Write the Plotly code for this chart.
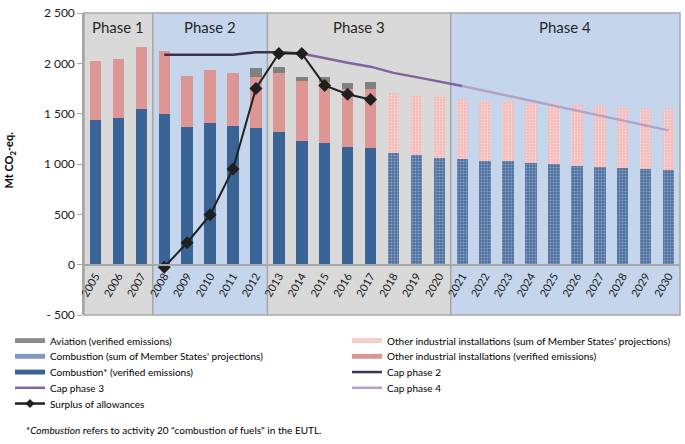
import plotly.graph_objects as go

# ---------------- data ----------------
years = list(range(2005, 2031))
year_labels = [str(y) for y in years]

years_verified = list(range(2005, 2018))
combustion_verified = [1440, 1456, 1544, 1495, 1368, 1407, 1378, 1358, 1319, 1226, 1211, 1167, 1158]
other_verified = [580, 586, 622, 625, 511, 530, 527, 511, 586, 594, 603, 582, 591]

years_aviation = list(range(2012, 2018))
aviation_verified = [82, 62, 49, 49, 59, 66]

years_proj = list(range(2018, 2031))
combustion_proj = [1114, 1088, 1058, 1049, 1032, 1029, 1006, 1000, 984, 974, 964, 951, 941]
other_proj = [596, 596, 603, 596, 597, 600, 603, 602, 606, 599, 599, 599, 603]

years_cap2 = list(range(2008, 2015))
cap_phase2 = [2085, 2085, 2085, 2085, 2110, 2110, 2098]
years_cap3 = list(range(2014, 2022))
cap_phase3 = [2098, 2049, 2006, 1967, 1905, 1863, 1820, 1775]
years_cap4 = list(range(2021, 2031))
cap_phase4 = [1775, 1726, 1677, 1628, 1579, 1530, 1481, 1432, 1383, 1334]

years_surplus = list(range(2008, 2018))
surplus = [-25, 218, 495, 951, 1750, 2098, 2098, 1781, 1693, 1641]

phases = ["Phase 1", "Phase 2", "Phase 3", "Phase 4"]
phase_bounds = [(2005, 2007), (2008, 2012), (2013, 2020), (2021, 2030)]

y_ticks = [-500, 0, 500, 1000, 1500, 2000, 2500]
y_tick_labels = ["- 500", "0", "500", "1 000", "1 500", "2 000", "2 500"]

# ---------------- styles ----------------
FONT = "Lato"
C_BLUE = "#3a6496"
C_PINK = "#dc9794"
C_GRAY = "#808080"
C_CAP2 = "#3f3151"
C_CAP3 = "#8064a2"
C_CAP4 = "#b3a2c7"
C_SURPLUS = "#1f1f1f"
BG_GRAY = "#d9d9d9"
BG_BLUE = "#c5d6ec"
FRAME = "#a6a6a6"

W, H = 685, 444
ML, MR, MT, MB = 84, 5, 8, 129
PW = W - ML - MR
PH = H - MT - MB


def px_x(p):
    return (p - ML) / PW


def px_y(p):
    return (H - MB - p) / PH


fig = go.Figure()

# stacked bars (stack order: combustion, other, aviation)
fig.add_trace(go.Bar(x=years_verified, y=combustion_verified, width=0.5,
                     marker=dict(color=C_BLUE, line=dict(width=0)),
                     name="Combustion* (verified emissions)"))
fig.add_trace(go.Bar(x=years_proj, y=combustion_proj, width=0.5,
                     marker=dict(color="#5576a4", line=dict(width=0),
                                 pattern=dict(shape=".", fgcolor="#c9d5e8", bgcolor="#4d6f9f",
                                              size=3, solidity=0.35)),
                     name="Combustion (sum of Member States' projections)"))
fig.add_trace(go.Bar(x=years_verified, y=other_verified, width=0.5,
                     marker=dict(color=C_PINK, line=dict(width=0)),
                     name="Other industrial installations (verified emissions)"))
fig.add_trace(go.Bar(x=years_proj, y=other_proj, width=0.5,
                     marker=dict(color="#f3c3c1", line=dict(width=0),
                                 pattern=dict(shape=".", fgcolor="#fdeeee", bgcolor="#f0b8b6",
                                              size=3, solidity=0.45)),
                     name="Other industrial installations (sum of Member States' projections)"))
# aviation on top of verified stacks
fig.add_trace(go.Bar(x=years_aviation, y=aviation_verified, width=0.5,
                     marker=dict(color=C_GRAY, line=dict(width=0)),
                     name="Aviation (verified emissions)"))

# lines
fig.add_trace(go.Scatter(x=years_cap3, y=cap_phase3, mode="lines",
                         line=dict(color=C_CAP3, width=2.5), name="Cap phase 3"))
fig.add_trace(go.Scatter(x=years_cap4, y=cap_phase4, mode="lines",
                         line=dict(color=C_CAP4, width=2.5), name="Cap phase 4"))
fig.add_trace(go.Scatter(x=years_cap2, y=cap_phase2, mode="lines",
                         line=dict(color=C_CAP2, width=2.5), name="Cap phase 2"))
fig.add_trace(go.Scatter(x=years_surplus, y=surplus, mode="lines+markers",
                         line=dict(color=C_SURPLUS, width=2),
                         marker=dict(symbol="diamond", size=10, color=C_SURPLUS),
                         name="Surplus of allowances"))

shapes = []
annotations = []

# phase background bands, separators and labels
for i, ((a, b), name) in enumerate(zip(phase_bounds, phases)):
    shapes.append(dict(type="rect", xref="x", yref="paper", x0=a - 0.5, x1=b + 0.5,
                       y0=0, y1=1, fillcolor=BG_GRAY if i % 2 == 0 else BG_BLUE,
                       line=dict(width=0), layer="below"))
    if i > 0:
        shapes.append(dict(type="line", xref="x", yref="paper", x0=a - 0.5, x1=a - 0.5,
                           y0=0, y1=1, line=dict(color=FRAME, width=1.5), layer="below"))
    annotations.append(dict(text=name, xref="x", yref="paper", x=(a + b) / 2, y=px_y(22),
                            showarrow=False, xanchor="center", yanchor="middle",
                            font=dict(family=FONT, size=15, color="#262626")))

# plot frame
shapes.append(dict(type="rect", xref="paper", yref="paper", x0=0, x1=1, y0=0, y1=1,
                   line=dict(color=FRAME, width=1.5), fillcolor="rgba(0,0,0,0)", layer="above"))

# y axis title
annotations.append(dict(text="<b>Mt CO<sub>2</sub>-eq.</b>", xref="paper", yref="paper",
                        x=px_x(10), y=px_y(158), textangle=-90, showarrow=False,
                        xanchor="center", yanchor="middle",
                        font=dict(family=FONT, size=11, color="#000000")))

# manual legend (two columns)
legend_rows = [341, 357, 373, 389, 405]
left = [
    ("rect", "#8c8c8c", "Aviation (verified emissions)"),
    ("rect", "#7f98c0", "Combustion (sum of Member States' projections)"),
    ("rect", C_BLUE, "Combustion* (verified emissions)"),
    ("line", C_CAP3, "Cap phase 3"),
    ("diamond", C_SURPLUS, "Surplus of allowances"),
]
right = [
    ("rect", "#f6cfcd", "Other industrial installations (sum of Member States' projections)"),
    ("rect", C_PINK, "Other industrial installations (verified emissions)"),
    ("line", C_CAP2, "Cap phase 2"),
    ("line", C_CAP4, "Cap phase 4"),
]
for col_x0, items in ((15, left), (352, right)):
    for row_y, (kind, color, label) in zip(legend_rows, items):
        x0, x1 = col_x0, col_x0 + 30
        if kind == "rect":
            shapes.append(dict(type="rect", xref="paper", yref="paper",
                               x0=px_x(x0), x1=px_x(x1), y0=px_y(row_y + 2.5), y1=px_y(row_y - 2.5),
                               fillcolor=color, line=dict(width=0)))
        else:
            shapes.append(dict(type="line", xref="paper", yref="paper",
                               x0=px_x(x0), x1=px_x(x1), y0=px_y(row_y), y1=px_y(row_y),
                               line=dict(color=color, width=2.5)))
            if kind == "diamond":
                cx = (x0 + x1) / 2
                path = "M {} {} L {} {} L {} {} L {} {} Z".format(
                    px_x(cx - 4), px_y(row_y), px_x(cx), px_y(row_y - 4),
                    px_x(cx + 4), px_y(row_y), px_x(cx), px_y(row_y + 4))
                shapes.append(dict(type="path", xref="paper", yref="paper", path=path,
                                   fillcolor=color, line=dict(color=color, width=1)))
        annotations.append(dict(text=label, xref="paper", yref="paper", x=px_x(x1 + 3),
                                y=px_y(row_y), showarrow=False, xanchor="left", yanchor="middle",
                                font=dict(family=FONT, size=10, color="#000000")))

# footnote
annotations.append(dict(text="*<i>Combustion</i> refers to activity 20 \"combustion of fuels\" in the EUTL.",
                        xref="paper", yref="paper", x=px_x(24), y=px_y(432), showarrow=False,
                        xanchor="left", yanchor="middle",
                        font=dict(family=FONT, size=10, color="#000000")))

fig.update_layout(
    width=W, height=H,
    margin=dict(l=ML, r=MR, t=MT, b=MB),
    paper_bgcolor="white", plot_bgcolor="white",
    barmode="stack",
    showlegend=False,
    shapes=shapes,
    annotations=annotations,
    font=dict(family=FONT, size=11, color="#262626"),
    xaxis=dict(range=[2004.5, 2030.5], tickmode="array", tickvals=years, ticktext=year_labels,
               tickangle=-60, anchor="free", position=(0 - (-500)) / 3000,
               showline=True, linecolor=FRAME, linewidth=1.5, showgrid=False, zeroline=False,
               ticks="", tickfont=dict(family=FONT, size=11, color="#1a1a1a")),
    yaxis=dict(range=[-500, 2500], tickmode="array", tickvals=y_ticks, ticktext=y_tick_labels,
               showline=True, linecolor=FRAME, linewidth=1.5, showgrid=False, zeroline=False,
               ticks="outside", ticklen=5, tickcolor=FRAME,
               tickfont=dict(family=FONT, size=12, color="#1a1a1a")),
)

fig.write_html("out.html")
